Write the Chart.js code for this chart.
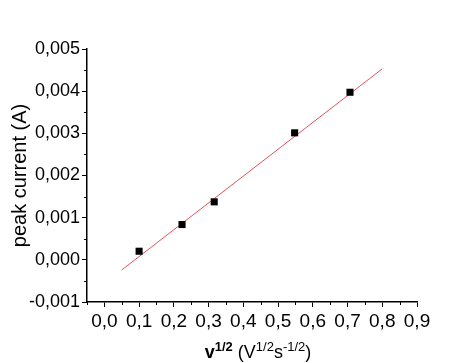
<!DOCTYPE html>
<html>
<head>
<meta charset="utf-8">
<script src="https://cdn.jsdelivr.net/npm/chart.js@4"></script>
<style>
  html, body { margin: 0; padding: 0; background: #fff; }
  #wrap { width: 474px; height: 363px; position: relative; }
</style>
</head>
<body>
<div id="wrap"><canvas id="peakChart"></canvas></div>
<script>
// measured points: sqrt of scan rate vs peak current
const sqrtScanRate = [0.1, 0.2236, 0.3162, 0.5477, 0.7071]
const peakCurrent = [0.000204, 0.000837, 0.001375, 0.003012, 0.003974]

// linear fit line as drawn in the figure
const fitX = [0.05, 0.8]
const fitY = [-0.00024, 0.00453]

const xTicks = [0.0, 0.1, 0.2, 0.3, 0.4, 0.5, 0.6, 0.7, 0.8, 0.9]
const xMinorTicks = [-0.05, 0.05, 0.15, 0.25, 0.35, 0.45, 0.55, 0.65, 0.75, 0.85]
const yTicks = [-0.001, 0.0, 0.001, 0.002, 0.003, 0.004, 0.005]
const yMinorTicks = [-0.0005, 0.0005, 0.0015, 0.0025, 0.0035, 0.0045]

const FONT = '"Liberation Sans", Arial, Helvetica, sans-serif'

const comma = (v, d) => v.toFixed(d).replace('.', ',')

// short minor ticks + x axis title with superscripts
const extrasPlugin = {
  id: 'extras',
  afterDraw(chart) {
    const ctx = chart.ctx
    const xs = chart.scales.x
    const ys = chart.scales.y
    const area = chart.chartArea
    ctx.save()
    ctx.strokeStyle = '#000'
    ctx.lineWidth = 1
    ctx.beginPath()
    xMinorTicks.forEach((v) => {
      const px = Math.round(xs.getPixelForValue(v)) + 0.5
      ctx.moveTo(px, area.bottom)
      ctx.lineTo(px, area.bottom + 3)
    })
    yMinorTicks.forEach((v) => {
      const py = Math.round(ys.getPixelForValue(v)) + 0.5
      ctx.moveTo(area.left, py)
      ctx.lineTo(area.left - 3, py)
    })
    ctx.stroke()

    // x title: v^1/2 (V^1/2 s^-1/2)
    const parts = [
      { t: 'v', f: 'bold 18px ' + FONT, dy: 0 },
      { t: '1/2', f: 'bold 13px ' + FONT, dy: -7 },
      { t: ' (V', f: '18px ' + FONT, dy: 0 },
      { t: '1/2', f: '13px ' + FONT, dy: -7 },
      { t: 's', f: '18px ' + FONT, dy: 0 },
      { t: '-1/2', f: '13px ' + FONT, dy: -7 },
      { t: ')', f: '18px ' + FONT, dy: 0 },
    ]
    let total = 0
    parts.forEach((p) => {
      ctx.font = p.f
      p.w = ctx.measureText(p.t).width
      total += p.w
    })
    let x = 258 - total / 2
    const base = 358
    ctx.fillStyle = '#000'
    ctx.textBaseline = 'alphabetic'
    parts.forEach((p) => {
      ctx.font = p.f
      ctx.fillText(p.t, x, base + p.dy)
      x += p.w
    })
    ctx.restore()
  },
}

new Chart(document.getElementById('peakChart'), {
  type: 'scatter',
  data: {
    datasets: [
      {
        label: 'peak current',
        data: sqrtScanRate.map((v, i) => ({ x: v, y: peakCurrent[i] })),
        pointStyle: 'rect',
        pointRadius: 5,
        pointBackgroundColor: '#000',
        pointBorderColor: '#000',
        pointBorderWidth: 0,
        showLine: false,
        order: 1,
      },
      {
        label: 'linear fit',
        data: fitX.map((v, i) => ({ x: v, y: fitY[i] })),
        showLine: true,
        borderColor: 'rgb(232, 80, 90)',
        borderWidth: 1,
        pointRadius: 0,
        order: 2,
      },
    ],
  },
  options: {
    responsive: true,
    maintainAspectRatio: false,
    animation: false,
    layout: { padding: { left: 0, right: 57, top: 49, bottom: 0 } },
    plugins: {
      legend: { display: false },
      tooltip: { enabled: false },
    },
    scales: {
      x: {
        type: 'linear',
        min: -0.05,
        max: 0.9,
        afterBuildTicks: (scale) => {
          scale.ticks = xTicks.map((v) => ({ value: v }))
        },
        afterFit: (scale) => {
          scale.height = 61
        },
        grid: {
          drawOnChartArea: false,
          drawTicks: true,
          tickLength: 5,
          color: '#000',
          lineWidth: 1,
        },
        border: { display: true, color: '#000', width: 1.5 },
        ticks: {
          color: '#000',
          padding: 3,
          maxRotation: 0,
          autoSkip: false,
          font: { family: FONT, size: 19 },
          callback: (v) => comma(v, 1),
        },
      },
      y: {
        type: 'linear',
        min: -0.001,
        max: 0.005,
        afterBuildTicks: (scale) => {
          scale.ticks = yTicks.map((v) => ({ value: v }))
        },
        afterFit: (scale) => {
          scale.width = 87
        },
        grid: {
          drawOnChartArea: false,
          drawTicks: true,
          tickLength: 5,
          color: '#000',
          lineWidth: 1,
        },
        border: { display: true, color: '#000', width: 1.5 },
        ticks: {
          color: '#000',
          padding: 2,
          autoSkip: false,
          font: { family: FONT, size: 18 },
          callback: (v) => comma(v, 3),
        },
        title: {
          display: true,
          text: 'peak current (A)',
          color: '#000',
          padding: { top: 8, bottom: 0 },
          font: { family: FONT, size: 20 },
        },
      },
    },
  },
  plugins: [extrasPlugin],
})
</script>
</body>
</html>
